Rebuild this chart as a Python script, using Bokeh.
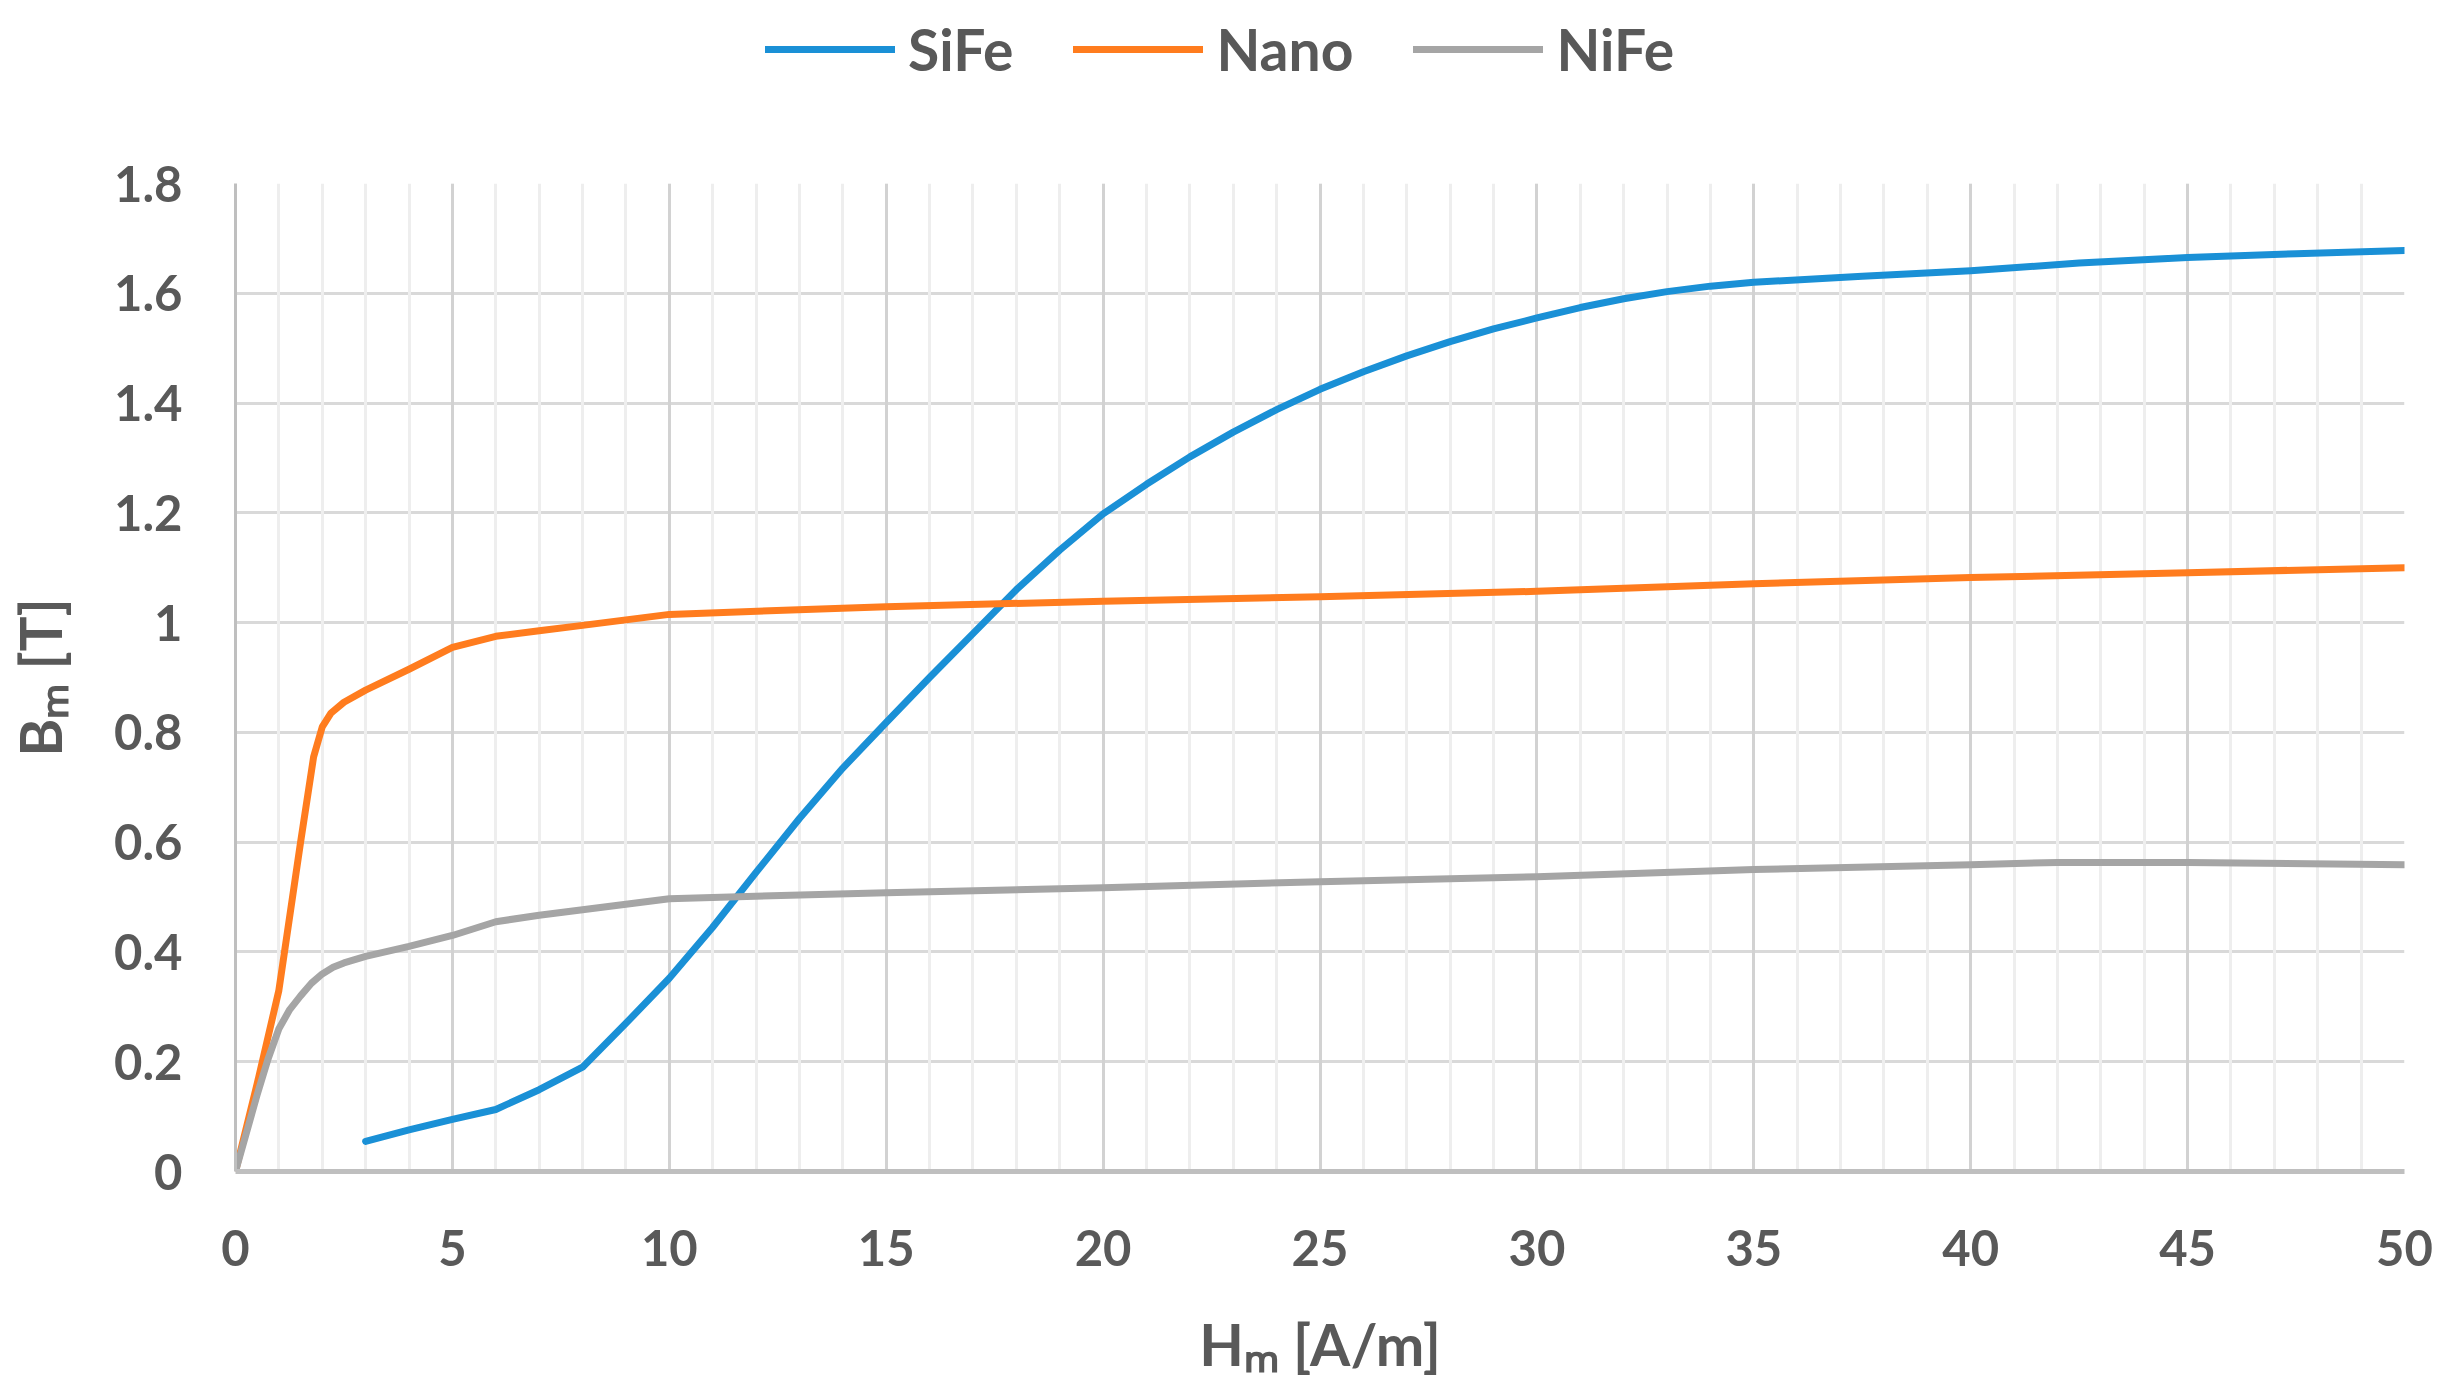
from bokeh.plotting import figure
from bokeh.layouts import column
from bokeh.models import (Legend, LegendItem, Range1d, SingleIntervalTicker,
                          FixedTicker, Grid, NumeralTickFormatter)
from bokeh.embed import file_html
from bokeh.resources import INLINE

# ---------------- data ----------------
sife_h = [3, 4, 5, 6, 7, 8, 9, 10, 11, 12, 13, 14, 15, 16, 17, 18, 19, 20, 21, 22, 23, 24,
          25, 26, 27, 28, 29, 30, 31, 32, 33, 34, 35, 37.5, 40, 42.5, 45, 47.5, 50]
sife_b = [0.055, 0.076, 0.095, 0.113, 0.149, 0.19, 0.27, 0.352, 0.445, 0.545, 0.643, 0.735,
          0.818, 0.90, 0.98, 1.06, 1.132, 1.198, 1.252, 1.302, 1.347, 1.388, 1.425, 1.457,
          1.486, 1.512, 1.535, 1.555, 1.574, 1.59, 1.603, 1.613, 1.62, 1.631, 1.641, 1.655,
          1.665, 1.672, 1.678]

nano_h = [0, 0.5, 1, 1.5, 1.8, 2, 2.2, 2.5, 3, 4, 5, 6, 7, 8, 9, 10, 15, 20, 25, 30, 35,
          40, 45, 50]
nano_b = [0, 0.16, 0.33, 0.6, 0.755, 0.81, 0.835, 0.855, 0.877, 0.915, 0.955, 0.975, 0.985,
          0.995, 1.005, 1.015, 1.029, 1.039, 1.047, 1.057, 1.071, 1.082, 1.091, 1.10]

nife_h = [0, 0.5, 0.75, 1, 1.25, 1.5, 1.75, 2, 2.25, 2.5, 3, 4, 5, 6, 7, 8, 9, 10, 15, 20,
          25, 30, 35, 40, 42, 45, 50]
nife_b = [0, 0.14, 0.205, 0.26, 0.295, 0.32, 0.343, 0.36, 0.372, 0.38, 0.392, 0.41, 0.43,
          0.455, 0.467, 0.477, 0.487, 0.497, 0.508, 0.517, 0.528, 0.537, 0.55, 0.559, 0.563,
          0.563, 0.559]

series_names = ["SiFe", "Nano", "NiFe"]
series_colors = ["#1A90D6", "#FF7C1E", "#A5A5A5"]

y_ticks = [0, 0.2, 0.4, 0.6, 0.8, 1.0, 1.2, 1.4, 1.6, 1.8]
x_min, x_max, x_step = 0, 50, 5
y_min, y_max = 0, 1.8
x_title = "H\u2098 [A/m]"
y_title = "B\u2098 [T]"

# ---------------- layout ----------------
W, H = 2440, 1383
TOP = 140                     # height of the legend strip
FL, FT, FR, FB = 235, 183, 2404, 1171
TXT = "#595959"
FONT = "Lato"
LW = 7

# main chart
p = figure(width=W, height=H - TOP, output_backend="svg", toolbar_location=None,
           x_range=Range1d(x_min, x_max), y_range=Range1d(y_min, y_max),
           min_border_left=FL, min_border_right=W - FR,
           min_border_top=FT - TOP, min_border_bottom=H - FB)
p.outline_line_color = None
p.background_fill_color = "white"

xticker = SingleIntervalTicker(interval=x_step, num_minor_ticks=5)
yticker = FixedTicker(ticks=y_ticks)

# grids: horizontal first, vertical (major every 5, minor every 1) on top
p.xgrid.grid_line_color = None
p.ygrid.ticker = yticker
p.ygrid.grid_line_color = "#D9D9D9"
p.ygrid.grid_line_width = 3
vgrid = Grid(dimension=0, ticker=xticker, grid_line_color="#D2D2D2", grid_line_width=3,
             minor_grid_line_color="#EEEEEE", minor_grid_line_width=3)
p.add_layout(vgrid)

# axes
for ax in (p.xaxis[0], p.yaxis[0]):
    ax.major_tick_line_color = None
    ax.minor_tick_line_color = None
    ax.major_label_text_font = FONT
    ax.major_label_text_font_style = "bold"
    ax.major_label_text_color = TXT
    ax.major_label_text_font_size = "49px"
    ax.axis_line_color = "#BFBFBF"
    ax.axis_label_text_font = FONT
    ax.axis_label_text_font_style = "bold"
    ax.axis_label_text_color = TXT
    ax.axis_label_text_font_size = "58px"
p.xaxis.ticker = xticker
p.xaxis.axis_line_width = 5
p.xaxis.major_label_standoff = 52
p.xaxis.axis_label = x_title
p.xaxis.axis_label_standoff = 40
p.yaxis.ticker = yticker
p.yaxis.formatter = NumeralTickFormatter(format="0.[0]")
p.yaxis.axis_line_width = 3
p.yaxis.major_label_standoff = 47
p.yaxis.axis_label = y_title
p.yaxis.axis_label_standoff = 37

# series
for hs, bs, c in zip([sife_h, nano_h, nife_h], [sife_b, nano_b, nife_b], series_colors):
    p.line(hs, bs, line_color=c, line_width=LW, line_cap="round", line_join="round")

# legend strip above the chart (its frame is aligned with the chart's frame)
top = figure(width=W, height=TOP, output_backend="svg", toolbar_location=None,
             x_range=Range1d(0, 1), y_range=Range1d(0, 1),
             x_axis_location=None, y_axis_location=None, min_border=0)
top.outline_line_color = None
top.xgrid.visible = False
top.ygrid.visible = False
# legend keys: single-point lines draw nothing in the strip, only their legend glyph
keys = [top.line([0.5], [0.5], line_color=c, line_width=LW, line_cap="round")
        for c in series_colors]
legend = Legend(items=[LegendItem(label=n, renderers=[r]) for n, r in zip(series_names, keys)],
                orientation="horizontal", location=(530, 57),
                glyph_width=130, glyph_height=30, label_standoff=13, spacing=60,
                padding=5, margin=0, border_line_color=None, background_fill_alpha=0,
                label_text_font=FONT, label_text_font_size="57px",
                label_text_font_style="bold", label_text_color=TXT)
top.add_layout(legend)

layout = column(top, p, spacing=0)
open("out.html", "w").write(file_html(layout, INLINE))
